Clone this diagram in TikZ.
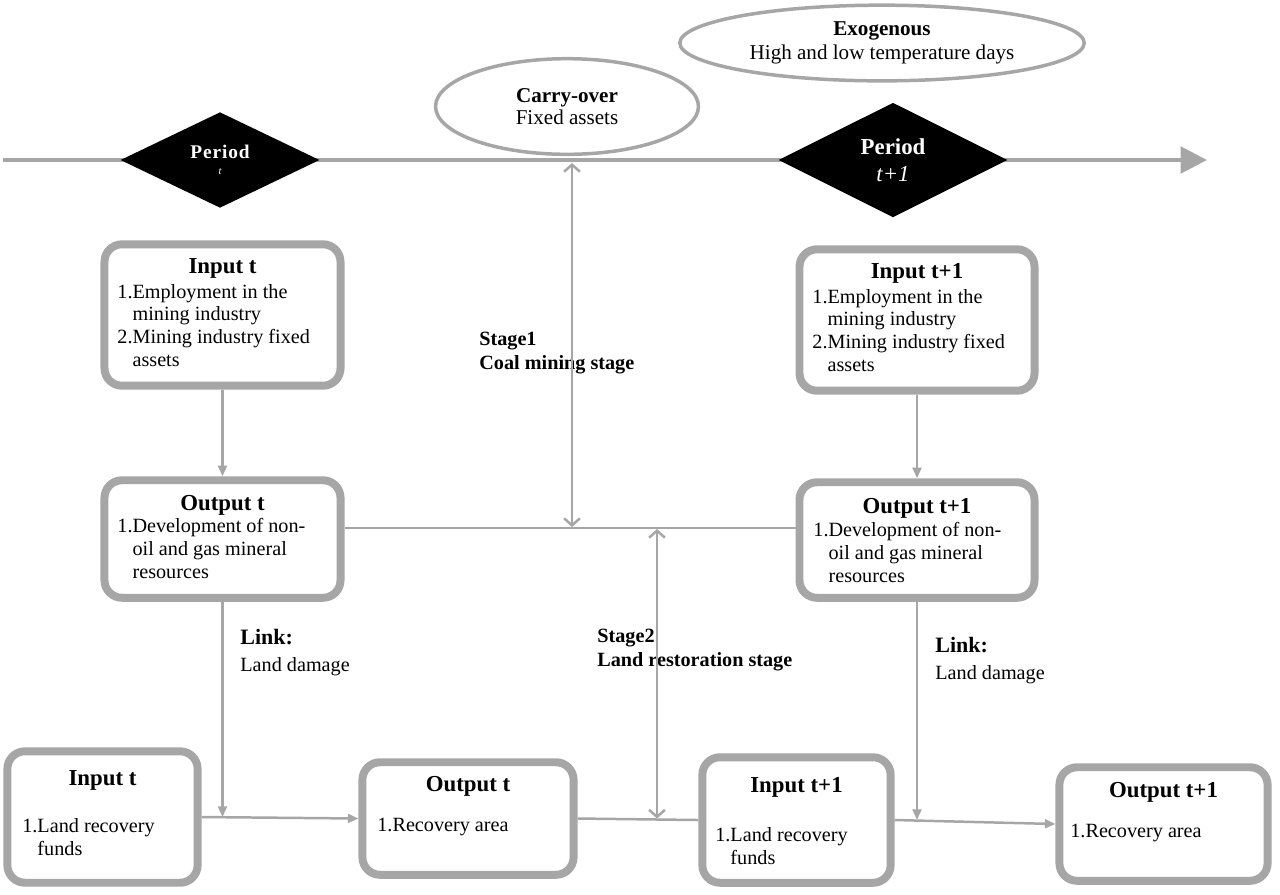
\documentclass[tikz,border=0pt]{standalone}
\usepackage{fontspec}
\setmainfont{Liberation Serif}
\usetikzlibrary{arrows.meta,shapes.geometric,calc}
\newdimen\px \px=0.5669pt
\newcommand{\cardtxt}[7]{%
  \parbox[c][#2\px][t]{#1\px}{%
    \centering\fontsize{13}{15}\selectfont\bfseries
    \rule{0pt}{#3\px}#6\par
    \vspace{#4\px}%
    \raggedright\leftskip=#5\px
    \fontsize{11.5}{13}\selectfont\mdseries #7\par}}
\begin{document}
\begin{tikzpicture}[x=0.02cm,y=-0.02cm,
  card/.style={draw=framegray,fill=white,line width=8\px,rounded corners=10pt,inner sep=0pt},
  period/.style={diamond,fill=black,text=white,inner sep=0pt,align=center},
  bubble/.style={ellipse,draw=framegray,fill=white,line width=3.5\px,inner sep=0pt,align=center},
  flow/.style={draw=framegray,line width=2.5\px,-{Triangle[length=6pt,width=5pt]}},
  stagearr/.style={draw=framegray,line width=2.5\px,{Straight Barb[length=4pt,width=9pt]}-{Straight Barb[length=4pt,width=9pt]}},
  plain/.style={draw=framegray,line width=2.5\px},
  timeline/.style={draw=framegray,line width=4\px,-{Triangle[length=15pt,width=15pt]}},
  lbl/.style={anchor=north west,inner sep=0pt,align=left}]
\definecolor{framegray}{HTML}{A6A6A6}
\useasboundingbox (0,0) rectangle (1280,894);

\coordinate (tstart) at (3,160);
\coordinate (tend) at (1207,160);
\draw[timeline] (tstart) -- (tend);

\node[bubble,minimum width=264\px,minimum height=96\px,font=\fontsize{12}{12.5}\selectfont] (carry) at (567,106.5)
  {\textbf{Carry-over}\\Fixed assets};
\node[bubble,minimum width=406\px,minimum height=76\px,font=\fontsize{12}{14}\selectfont] (exo) at (882,43)
  {\textbf{Exogenous}\\High and low temperature days};
\node[period,minimum width=200\px,minimum height=96\px,font=\fontsize{11}{9}\selectfont] (pt) at (220,160)
  {\textbf{P\kern.5pt e\kern.5pt r\kern.5pt i\kern.5pt o\kern.5pt d}\\\fontsize{6}{6}\selectfont\itshape t};
\node[period,minimum width=230\px,minimum height=115\px,font=\fontsize{13}{15}\selectfont] (pt1) at (893,160)
  {\textbf{Period}\\\textit{t+1}};

\node[card] (in1) at (222.5,315) {\cardtxt{237}{142}{29}{2}{13}{Input t}
  {1.Employment in the\\\phantom{1.}mining industry\\2.Mining industry fixed\\\phantom{2.}assets}};
\node[card] (out1) at (222.5,539) {\cardtxt{237}{118}{30}{0}{13}{Output t}
  {1.Development of non-\\\phantom{1.}oil and gas mineral\\\phantom{1.}resources}};
\node[card] (in2) at (917,320) {\cardtxt{236}{142}{29}{2}{13}{Input t+1}
  {1.Employment in the\\\phantom{1.}mining industry\\2.Mining industry fixed\\\phantom{2.}assets}};
\node[card] (out2) at (917,540) {\cardtxt{236}{116}{31}{1}{14}{Output t+1}
  {1.Development of non-\\\phantom{1.}oil and gas mineral\\\phantom{1.}resources}};

\node[card] (inB1) at (102.5,817) {\cardtxt{191}{132}{34}{25}{15}{Input t}
  {1.Land recovery\\\phantom{1.}funds}};
\node[card] (outB1) at (468,818.5) {\cardtxt{212}{113}{29}{18}{15}{Output t}
  {1.Recovery area}};
\node[card] (inB2) at (796.5,820) {\cardtxt{189}{126}{35}{27}{13}{Input t+1}
  {1.Land recovery\\\phantom{1.}funds}};
\node[card] (outB2) at (1163.5,824) {\cardtxt{209}{114}{30}{18}{11}{Output t+1}
  {1.Recovery area}};

\node[lbl,font=\fontsize{11.5}{13.6}\selectfont\bfseries] (stage1) at (479,332) {Stage1\\Coal mining stage};
\node[lbl,font=\fontsize{11.5}{13.6}\selectfont\bfseries] (stage2) at (597,629) {Stage2\\Land restoration stage};
\node[lbl,font=\fontsize{11.5}{15.3}\selectfont] (link1) at (240,629) {\fontsize{12.5}{13}\selectfont\textbf{Link:}\\Land damage};
\node[lbl,font=\fontsize{11.5}{15.3}\selectfont] (link2) at (935,637) {\fontsize{12.5}{13}\selectfont\textbf{Link:}\\Land damage};

\coordinate (s1a) at (572,163);
\coordinate (s2a) at (657,529);
\draw[flow] (in1.south) -- (out1.north);
\draw[flow] (in2.south) -- (out2.north);
\draw[plain] (out1.east |- 0,528) -- (out2.west |- 0,528);
\draw[stagearr] (s1a) -- (s1a |- 0,527);
\draw[stagearr] (s2a) -- (s2a |- outB1.east);
\draw[flow] (out1.south) -- (out1.south |- inB1.east);
\draw[flow] (out2.south) -- (out2.south |- inB2.east);
\draw[flow] (inB1.east) -- (outB1.west);
\draw[plain] (outB1.east) -- (inB2.west);
\draw[flow] (inB2.east) -- (outB2.west);
\end{tikzpicture}
\end{document}
